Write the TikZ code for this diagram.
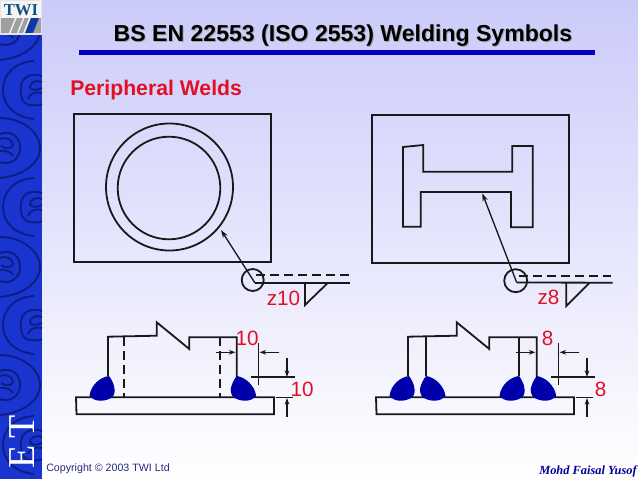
\documentclass[tikz,border=0pt]{standalone}
\usepackage{fontspec}
\setmainfont{Liberation Sans}
\newfontfamily\serifface{Liberation Serif}
\usetikzlibrary{arrows.meta}
\definecolor{bgtop}{RGB}{203,203,250}
\definecolor{stripblue}{RGB}{26,52,208}
\definecolor{curlblue}{RGB}{12,30,130}
\definecolor{rulered}{RGB}{226,16,36}
\definecolor{weldblue}{RGB}{0,0,170}
\definecolor{rulerblue}{RGB}{0,0,190}
\definecolor{navytext}{RGB}{40,40,130}
\definecolor{twiblue}{RGB}{20,80,130}
\tikzset{
  x=0.75pt,y=-0.75pt,
  ink/.style={line width=1.35pt,black!90},
  thinink/.style={line width=1pt,black!90},
  dashink/.style={line width=1.35pt,black!90,dash pattern=on 6.5pt off 4pt},
  dimarrow/.style={line width=1pt,black!90,-{Stealth[length=5pt,width=3.5pt]}},
  redlabel/.style={text=rulered,font=\fontsize{15.5}{15.5}\selectfont,inner sep=0pt},
  curl/.style={line width=1.4pt,curlblue},
  weld/.style={fill=weldblue,draw=none},
}
\newcommand{\curlA}[1]{%
  \begin{scope}[shift={(0,#1)}]
    \draw[curl] (34,-29) .. controls (14,-28) and (3,-15) .. (3,0) .. controls (3,15) and (14,27) .. (34,29);
    \draw[curl] (42,-14) .. controls (30,-18) and (22,-12) .. (21,-4) .. controls (20,6) and (22,14) .. (30,15) .. controls (36,16) and (41,15) .. (42,14);
    \draw[curl] (42,-8) .. controls (36,-11) and (30,-7) .. (30,-3) .. controls (30,0) and (36,1) .. (42,-2);
    \draw[curl] (42,3) .. controls (36,1) and (29,4) .. (28,9);
  \end{scope}}
\newcommand{\curlB}[1]{%
  \begin{scope}[shift={(0,#1)}]
    \draw[curl] (0,-30) .. controls (22,-30) and (40,-16) .. (40,0) .. controls (40,16) and (22,28) .. (0,30);
    \draw[curl] (0,-14) .. controls (10,-18) and (19,-12) .. (20,-2) .. controls (21,8) and (14,15) .. (6,15) .. controls (3,15) and (1,15) .. (0,14);
    \draw[curl] (0,-9) .. controls (6,-12) and (13,-8) .. (13,-3) .. controls (13,0) and (6,2) .. (1,-2);
    \draw[curl] (0,3) .. controls (6,2) and (12,5) .. (13,8);
  \end{scope}}
\newcommand{\weldshape}[1]{%
  \begin{scope}[shift={(#1,0)}]
    \fill[weld] (0,376) .. controls (-8,377) and (-18,384) .. (-19.5,396) .. controls (-15,401.5) and (-6,402) .. (1,398.5) .. controls (5,397) and (6,393) .. (5.5,389) .. controls (5,384) and (3,380) .. (0,376) -- cycle;
  \end{scope}}
\newcommand{\weldmirror}[1]{%
  \begin{scope}[shift={(#1,0)}]
    \fill[weld] (0,376) .. controls (8,377) and (18,385) .. (19.5,396) .. controls (15,401.5) and (6,402) .. (-1,398.5) .. controls (-5,397) and (-6,393) .. (-6,389) .. controls (-5,384) and (-3,380) .. (0,376) -- cycle;
  \end{scope}}
\newcommand{\jointoutline}{%
  \draw[ink] (76,397.3) -- (274,397.3) -- (274,414.3) -- (76.5,414.3) -- cycle;
  \draw[ink] (108,376) -- (108,336.7) -- (156.7,335.7) -- (156.7,322.3) -- (189.3,349) -- (189.3,337.3) -- (236.7,337.3) -- (236.7,377);
  \coordinate (dimA) at (215.7,352.3); \coordinate (dimB) at (235.5,352.3);
  \coordinate (dimC) at (279.3,352.3); \coordinate (dimD) at (259.5,352.3);
  \coordinate (dimE) at (287,357.7); \coordinate (dimF) at (287,377);
  \coordinate (dimG) at (287,417); \coordinate (dimH) at (287,398);
  \draw[dimarrow] (dimA) -- (dimB);
  \draw[dimarrow] (dimC) -- (dimD);
  \draw[dimarrow] (dimE) -- (dimF);
  \draw[dimarrow] (dimG) -- (dimH);
  \draw[thinink] (258.7,343.3) -- (258.7,385);
  \draw[thinink] (251,377) -- (294.7,377);
  \draw[thinink] (276,397.3) -- (293.3,397.3);
}
\begin{document}
\begin{tikzpicture}
\useasboundingbox (0,0) rectangle (638,479);
\begin{scope}
\clip (0,0) rectangle (638,479);
% background
\shade[top color=bgtop,bottom color=white] (0,0) rectangle (638,479);
% left strip
\fill[stripblue] (0,0) rectangle (42,479);
\begin{scope}
  \clip (0,0) rectangle (42,479);
  \curlB{30}\curlA{90}\curlB{148}\curlA{207}\curlB{267}\curlA{325}\curlB{385}\curlA{445}
\end{scope}
% logo
\fill[white!92!gray] (0,0) rectangle (42,34);
\fill[gray!75] (1,18) rectangle (41,33);
\foreach \xx in {9,17}{\fill[white!90!gray] (\xx,33) -- (\xx+1.5,33) -- (\xx+7.5,18) -- (\xx+6,18) -- cycle;}
\fill[white!90!gray] (23,33) -- (25,33) -- (31,18) -- (29,18) -- cycle;
\fill[twiblue!70!blue] (25,33) -- (33,33) -- (39,18) -- (31,18) -- cycle;
\draw[white!80!gray,line width=0.8pt] (0.5,0) -- (41.5,0) -- (41.5,34) -- (0.5,34) -- cycle;
\node[inner sep=0pt,text=twiblue,font=\serifface\bfseries\fontsize{12.5}{12.5}\selectfont] (logo) at (21,10) {TWI};
% ET
\node[rotate=90,inner sep=0pt,text=white,font=\serifface\fontsize{28.5}{28.5}\selectfont] (et) at (22.5,442) {E\hspace{5pt}T};
% title
\node[inner sep=0pt,anchor=base,text=black!35,font=\bfseries\fontsize{17.3}{17.3}\selectfont] (titleshadow) at (344,42) {BS EN 22553 (ISO 2553) Welding Symbols};
\node[inner sep=0pt,anchor=base,text=black,font=\bfseries\fontsize{17.3}{17.3}\selectfont] (title) at (343,41) {BS EN 22553 (ISO 2553) Welding Symbols};
\fill[rulerblue] (79,50.2) rectangle (595,55.2);
\node[inner sep=0pt,anchor=base west,text=rulered,font=\bfseries\fontsize{15.9}{15.9}\selectfont] (heading) at (70,95) {Peripheral Welds};
% top left view
\draw[ink] (74,114.3) rectangle (270.7,262);
\draw[ink] (169.5,187) circle [radius=63.5];
\draw[ink] (169,188) circle [radius=51.3];
\coordinate (tipL) at (221,230);
\coordinate (baseL) at (255,283);
\draw[thinink,-{Stealth[length=6pt,width=4pt]}] (baseL) -- (tipL);
\draw[ink] (252.7,280) circle [radius=11];
\coordinate (endL) at (350,283);
\draw[ink] (baseL) -- (endL);
\draw[dashink] (256,275.3) -- (350,275.3);
\draw[ink] (327.7,283) -- (305,305) -- (305,283);
\node[redlabel] (zten) at (283.5,298) {z10};
% top right view
\draw[ink] (372,115) rectangle (568.7,262.7);
\draw[ink] (403,147) -- (423.3,145) -- (423.3,171.7) -- (512.3,171.7) -- (512.3,146) -- (532.7,146) -- (532.7,227.3) -- (511,227.3) -- (511,192) -- (420.7,192) -- (420.7,226.7) -- (403,226.7) -- cycle;
\coordinate (tipR) at (482.3,193.3);
\coordinate (baseR) at (516.7,282.5);
\draw[thinink,-{Stealth[length=6pt,width=4pt]}] (baseR) -- (tipR);
\draw[ink] (515.7,280.7) circle [radius=11.5];
\coordinate (endR) at (612.7,282.7);
\draw[ink] (baseR) -- (endR);
\draw[dashink] (519,276) -- (611,276);
\draw[ink] (589.3,283) -- (566.3,306) -- (566.3,283);
\node[redlabel] (zeight) at (548.5,297) {z8};
% bottom left joint
\jointoutline
\draw[dashink] (123.7,337) -- (123.7,397);
\draw[dashink] (220.3,337) -- (220.3,397);
\weldshape{109}
\weldmirror{236.7}
\node[redlabel] (tenA) at (247,338.5) {10};
\node[redlabel] (tenB) at (302,389) {10};
% bottom right joint
\begin{scope}[xshift=225pt]
  \jointoutline
  \draw[ink] (126,337) -- (126,376);
  \draw[ink] (219,337) -- (219,376);
  \weldshape{109}
  \weldmirror{126}
  \weldshape{219}
  \weldmirror{236.7}
\end{scope}
\node[redlabel] (eightA) at (547.7,338.5) {8};
\node[redlabel] (eightB) at (600.7,389) {8};
% footer
\node[inner sep=0pt,anchor=base west,text=navytext,font=\fontsize{8}{8}\selectfont] (copy) at (46,471) {Copyright © 2003 TWI Ltd};
\node[inner sep=0pt,anchor=base west,text=rulerblue!80!black,font=\serifface\bfseries\itshape\fontsize{9.3}{9.3}\selectfont] (author) at (539,474) {Mohd Faisal Yusof};
\end{scope}
\end{tikzpicture}
\end{document}
